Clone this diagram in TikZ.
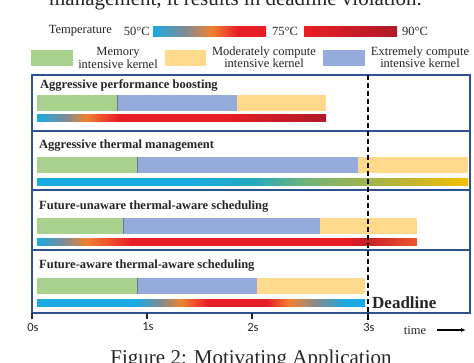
\documentclass[tikz,border=0pt]{standalone}
\usepackage{fontspec}
\setmainfont{Liberation Serif}
\setsansfont{Carlito}
\usepackage{tikz}
\usetikzlibrary{arrows.meta,positioning}
\definecolor{FrameBlue}{HTML}{2F528F}
\definecolor{FigureInk}{HTML}{262626}
\definecolor{MemGreen}{HTML}{A9D18E}
\definecolor{ModYellow}{HTML}{FFD98C}
\definecolor{ExtBlue}{HTML}{95ABDC}
\definecolor{TBlue}{RGB}{27,170,225}
\definecolor{TGray}{RGB}{125,140,150}
\definecolor{TOrange}{RGB}{240,130,50}
\definecolor{TRed}{RGB}{232,30,37}
\definecolor{TDark}{RGB}{175,26,40}
\definecolor{TTeal}{RGB}{35,170,190}
\definecolor{TGreen}{RGB}{115,180,118}
\definecolor{TOlive}{RGB}{185,180,55}
\definecolor{TGold}{RGB}{245,190,5}
\definecolor{TRedOrange}{RGB}{238,88,45}
% temperature shadings, visible part runs from 25bp to 75bp
\pgfdeclarehorizontalshading{LegendLow}{100bp}{color(0bp)=(TBlue); color(25bp)=(TBlue);
  color(39bp)=(TGray); color(51bp)=(TOrange); color(62.5bp)=(TRed); color(100bp)=(TRed)}
\pgfdeclarehorizontalshading{LegendHigh}{100bp}{color(0bp)=(TRed); color(25bp)=(TRed);
  color(75bp)=(TDark); color(100bp)=(TDark)}
\pgfdeclarehorizontalshading{TempBoost}{100bp}{color(0bp)=(TBlue); color(25bp)=(TBlue);
  color(30bp)=(TGray); color(33.5bp)=(TOrange); color(39bp)=(TRed); color(57bp)=(TRed);
  color(75bp)=(TDark); color(100bp)=(TDark)}
\pgfdeclarehorizontalshading{TempThermal}{100bp}{color(0bp)=(TBlue); color(42.5bp)=(TBlue);
  color(50bp)=(TTeal); color(56.5bp)=(TGreen); color(67bp)=(TOlive); color(75bp)=(TGold);
  color(100bp)=(TGold)}
\pgfdeclarehorizontalshading{TempUnaware}{100bp}{color(0bp)=(TBlue); color(25bp)=(TBlue);
  color(28.5bp)=(TGray); color(31.5bp)=(TOrange); color(37.5bp)=(TRed); color(66bp)=(TRed);
  color(68bp)=(TDark!60!TRed); color(75bp)=(TRedOrange); color(100bp)=(TRedOrange)}
\pgfdeclarehorizontalshading{TempAware}{100bp}{color(0bp)=(TBlue); color(40.2bp)=(TBlue);
  color(43.7bp)=(TGray); color(47bp)=(TOrange); color(51bp)=(TRed); color(60bp)=(TRed);
  color(63.5bp)=(TOrange); color(68bp)=(TGray); color(72bp)=(TBlue); color(100bp)=(TBlue)}
% one row of kernels: top, end of green, end of blue, end of yellow
\newcommand{\KernelRow}[4]{%
  \fill[MemGreen] (37,#1) rectangle (#2,#1+16);
  \fill[ExtBlue] (#2,#1) rectangle (#3,#1+16);
  \fill[ModYellow] (#3,#1) rectangle (#4,#1+16);
  \draw[ExtBlue!70!black,line width=0.4pt] (#2,#1) -- (#2,#1+16);
}
% temperature strip: top, right end, shading
\newcommand{\TempRow}[3]{%
  \shade[shading=#3] (37,#1) rectangle (#2,#1+7.5);
}

\begin{document}
\begin{tikzpicture}[
  x=1pt,y=-1pt,
  text=FigureInk,
  legendtext/.style={font=\fontsize{12.5}{12.5}\selectfont,align=center},
  paneltitle/.style={font=\fontsize{12.5}{14}\bfseries,anchor=west,inner sep=0pt},
  panelbox/.style={draw=FrameBlue,line width=1.8pt},
  ticklabel/.style={font=\sffamily\fontsize{12.5}{12.5}\selectfont,inner sep=0pt},
]
  \useasboundingbox (0,0) rectangle (474,362);
  \fill[white] (0,0) rectangle (474,362);

  \node[font=\fontsize{21}{21}\selectfont,anchor=base east,inner sep=0pt] (TopLine) at (422,5.5)
    {management, it results in deadline violation.};
  \node[font=\fontsize{21}{21}\selectfont,anchor=base,inner sep=0pt] (Caption) at (251,364)
    {Figure 2: Motivating Application};

  % legend
  \node[legendtext,anchor=east,inner sep=0pt] (TempLabel) at (112,31) {Temperature};
  \node[legendtext,anchor=east,inner sep=0pt] (LowLabel) at (150,31) {50°C};
  \shade[shading=LegendLow] (153,26) rectangle (266,36);
  \node[legendtext,anchor=west,inner sep=0pt] (MidLabel) at (272,31) {75°C};
  \shade[shading=LegendHigh] (304,26) rectangle (397,36);
  \node[legendtext,anchor=west,inner sep=0pt] (HighLabel) at (402,31) {90°C};

  \fill[MemGreen] (31,50) rectangle (73,66);
  \node[legendtext] (MemLabel) at (118,58) {Memory\\intensive kernel};
  \fill[ModYellow] (165,50) rectangle (206,66);
  \node[legendtext] (ModLabel) at (264,57) {Moderately compute\\intensive kernel};
  \fill[ExtBlue] (323,50) rectangle (365,66);
  \node[legendtext] (ExtLabel) at (420,57) {Extremely compute\\intensive kernel};

  % panels
  \node[paneltitle] (Boost) at (40,85) {Aggressive performance boosting};
  \KernelRow{95}{117}{237}{326}
  \TempRow{114}{326}{TempBoost}

  \node[paneltitle] (Thermal) at (39,146) {Aggressive thermal management};
  \KernelRow{157}{137}{358}{468}
  \TempRow{178}{468}{TempThermal}

  \node[paneltitle] (Unaware) at (39,207) {Future-unaware thermal-aware scheduling};
  \KernelRow{218}{123}{320}{417}
  \TempRow{238}{417}{TempUnaware}

  \node[paneltitle] (Aware) at (39,266) {Future-aware thermal-aware scheduling};
  \KernelRow{278}{137}{257}{365}
  \TempRow{299}{365}{TempAware}

  \draw[panelbox] (32,75) rectangle (470,131);
  \draw[panelbox] (32,131) rectangle (470,190);
  \draw[panelbox] (32,190) rectangle (470,250);
  \draw[panelbox] (32,250) rectangle (470,313);

  % time axis
  \foreach \t/\x in {0s/32,1s/147,2s/252,3s/368}{
    \draw[FigureInk,line width=1.2pt] (\x,313) -- (\x,319);
    \node[ticklabel] (tick\x) at (\x+1,327) {\t};
  }
  \draw[black,line width=1.4pt,dash pattern=on 5pt off 3pt] (368,75) -- (368,320);
  \node[font=\fontsize{17}{17}\bfseries,anchor=west,inner sep=0pt] (Deadline) at (372,303) {Deadline};

  \node[font=\fontsize{12.5}{12.5}\selectfont,inner sep=0pt] (Time) at (415,330) {time};
  \coordinate (TimeEnd) at (466,330);
  \draw[-{Latex[length=5pt,width=4pt]},line width=1.3pt] ([xshift=11pt]Time.east) -- (TimeEnd);
\end{tikzpicture}
\end{document}
